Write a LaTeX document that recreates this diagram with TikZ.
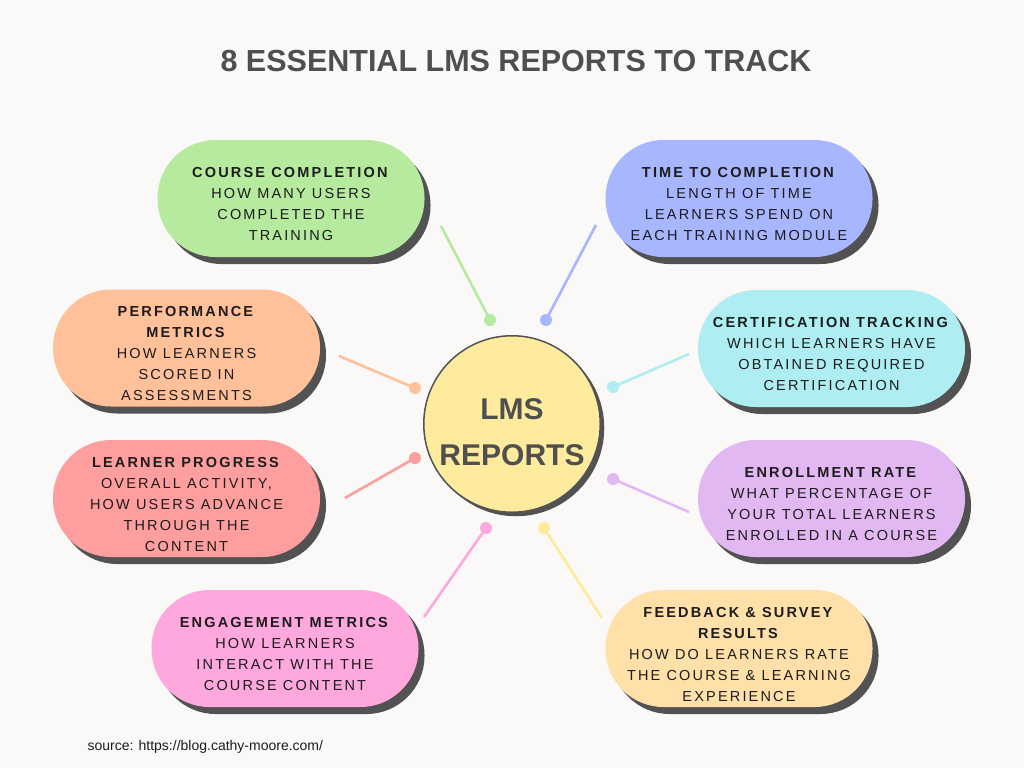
\documentclass[tikz,border=0pt]{standalone}
\usepackage{fontspec}
\setmainfont{Liberation Sans}
\newfontfamily\pillfont[LetterSpace=15]{Liberation Sans}
\usetikzlibrary{shadows}

\definecolor{bgc}{HTML}{FAF9F7}
\definecolor{titlec}{HTML}{4F4F4F}
\definecolor{shadowc}{HTML}{525252}
\definecolor{bodyc}{HTML}{1C1C1C}
\definecolor{lmsyellow}{HTML}{FFEB9E}
\definecolor{cgreen}{HTML}{B5EA9F}
\definecolor{cblue}{HTML}{A8B6FF}
\definecolor{corange}{HTML}{FFC09A}
\definecolor{ccyan}{HTML}{AEEEF2}
\definecolor{cred}{HTML}{FF9E9E}
\definecolor{clav}{HTML}{E2B8F3}
\definecolor{cpink}{HTML}{FFA8DE}
\definecolor{cpeach}{HTML}{FFE0A8}
\definecolor{cyellow}{HTML}{FFE99A}

% heading line of a box, with a strut that lowers the block a little
\newcommand{\boxhead}[1]{\rule{0pt}{22pt}\textbf{#1}}

\tikzset{
  pill/.style={rectangle, rounded corners=58pt, minimum width=267pt, minimum height=117pt,
    align=center, text=bodyc, font=\pillfont\fontsize{14.5}{21}\selectfont,
    drop shadow={shadow xshift=6pt, shadow yshift=-7pt, fill=shadowc, opacity=1}},
  link/.style={line width=2.6pt},
  knob/.style={circle, inner sep=0pt, minimum size=12pt}
}

\begin{document}
\begin{tikzpicture}[x=1pt,y=-1pt]
        \fill[bgc] (0,0) rectangle (1024,768);
        \useasboundingbox (0,0) rectangle (1024,768);

        \node[anchor=base, text=titlec, font=\bfseries\fontsize{30.5}{36}\selectfont] (title) at (516,71) {8 ESSENTIAL LMS REPORTS TO TRACK};

        % report boxes
        \node[pill, fill=cgreen]  (course) at (291,198.5) {\boxhead{COURSE COMPLETION}\\HOW MANY USERS\\COMPLETED THE\\TRAINING};
        \node[pill, fill=cblue]   (time)   at (739,198.5) {\boxhead{TIME TO COMPLETION}\\LENGTH OF TIME\\LEARNERS SPEND ON\\EACH TRAINING MODULE};
        \node[pill, fill=corange] (perf)   at (186.5,348) {\boxhead{PERFORMANCE}\\\textbf{METRICS}\\HOW LEARNERS\\SCORED IN\\ASSESSMENTS};
        \node[pill, fill=ccyan]   (cert)   at (831.5,348.5) {\boxhead{CERTIFICATION TRACKING}\\WHICH LEARNERS HAVE\\OBTAINED REQUIRED\\CERTIFICATION};
        \node[pill, fill=cred]    (prog)   at (186.5,498.5) {\boxhead{LEARNER PROGRESS}\\OVERALL ACTIVITY,\\HOW USERS ADVANCE\\THROUGH THE\\CONTENT};
        \node[pill, fill=clav]    (enrol)  at (831.5,498.5) {\boxhead{ENROLLMENT RATE}\\WHAT PERCENTAGE OF\\YOUR TOTAL LEARNERS\\ENROLLED IN A COURSE};
        \node[pill, fill=cpink]   (engage) at (285,648.5) {\boxhead{ENGAGEMENT METRICS}\\HOW LEARNERS\\INTERACT WITH THE\\COURSE CONTENT};
        \node[pill, fill=cpeach]  (feed)   at (739,648.5) {\boxhead{FEEDBACK \& SURVEY}\\\textbf{RESULTS}\\HOW DO LEARNERS RATE\\THE COURSE \& LEARNING\\EXPERIENCE};

        % hub
        \node[circle, fill=lmsyellow, draw=shadowc, line width=1.5pt, minimum size=174pt,
              drop shadow={shadow xshift=4pt, shadow yshift=-4pt, fill=shadowc, opacity=1},
              align=center, text=titlec, font=\bfseries\fontsize{30}{46}\selectfont] (lms) at (512,424) {\rule{0pt}{38pt}LMS\\REPORTS};

        % spokes
        \coordinate (e1) at (441,226);
        \coordinate (e2) at (596,225);
        \coordinate (e3) at (339,356);
        \coordinate (e4) at (689,354);
        \coordinate (e5) at (345,498);
        \coordinate (e6) at (689,512);
        \coordinate (e7) at (424,617);
        \coordinate (e8) at (602,618);

        \node[knob, fill=cgreen]  (k1) at (490,320) {};
        \node[knob, fill=cblue]   (k2) at (546,320) {};
        \node[knob, fill=corange] (k3) at (415,388) {};
        \node[knob, fill=ccyan]   (k4) at (613,387) {};
        \node[knob, fill=cred]    (k5) at (415,458) {};
        \node[knob, fill=clav]    (k6) at (613,479) {};
        \node[knob, fill=cpink]   (k7) at (486,528) {};
        \node[knob, fill=cyellow] (k8) at (544,528) {};

        \draw[link, cgreen]  (e1) -- (k1.center);
        \draw[link, cblue]   (e2) -- (k2.center);
        \draw[link, corange] (e3) -- (k3.center);
        \draw[link, ccyan]   (e4) -- (k4.center);
        \draw[link, cred]    (e5) -- (k5.center);
        \draw[link, clav]    (e6) -- (k6.center);
        \draw[link, cpink]   (e7) -- (k7.center);
        \draw[link, cyellow] (e8) -- (k8.center);

        \node[anchor=base west, text=bodyc, font=\fontsize{14}{16}\selectfont] (src) at (84,750) {source: https://blog.cathy-moore.com/};
    \end{tikzpicture}
\end{document}
